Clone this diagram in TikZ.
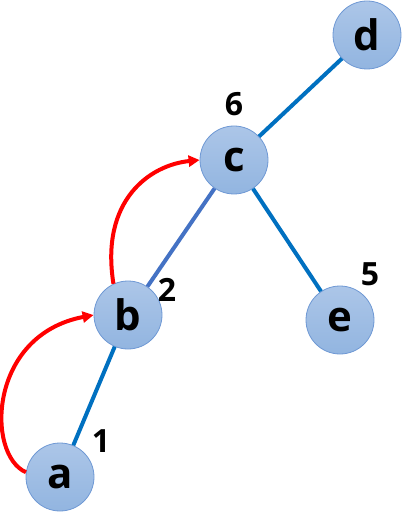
\documentclass[tikz,border=0pt]{standalone}
\usepackage{fontspec}
\setmainfont{Open Sans}
\usetikzlibrary{arrows.meta}
\definecolor{edgeblue}{RGB}{0,112,192}
\definecolor{edgeblue2}{RGB}{68,114,196}
\definecolor{nodeborder}{RGB}{110,152,212}
\definecolor{redarc}{RGB}{255,0,0}
\tikzset{
  vert/.style={circle, minimum size=68pt, inner sep=0pt, draw=nodeborder, line width=0.8pt,
    top color={rgb,255:red,172;green,198;blue,232}, bottom color={rgb,255:red,146;green,181;blue,224},
    font=\fontsize{42}{42}\selectfont\bfseries},
  numlbl/.style={font=\fontsize{32}{32}\selectfont\bfseries, inner sep=0pt},
  tree/.style={draw=edgeblue, line width=4pt},
  visit/.style={draw=redarc, line width=4pt, -{Triangle[length=11pt,width=11pt]}}
}
\begin{document}
\begin{tikzpicture}[x=1pt,y=-1pt]
\useasboundingbox (0,0) rectangle (416,521);
\node[vert] (a) at (60,477) {a};
\node[vert] (b) at (128,315) {b};
\node[vert] (c) at (234,160) {c};
\node[vert] (d) at (367,35) {d};
\node[vert] (e) at (340,320) {e};
\node[numlbl] (n1) at (101,441) {1};
\node[numlbl] (n2) at (167,290) {2};
\node[numlbl] (n6) at (234,104) {6};
\node[numlbl] (n5) at (370,274) {5};
\draw[tree] (a) -- (b);
\draw[tree, draw=edgeblue2] (b) -- (c);
\draw[tree] (c) -- (d);
\draw[tree] (c) -- (e);
\draw[visit] (a.172) .. controls (-14,455) and (-12,335) .. (b.west);
\draw[visit] (b.115) .. controls (100,200) and (150,165) .. (c.west);
\end{tikzpicture}
\end{document}
